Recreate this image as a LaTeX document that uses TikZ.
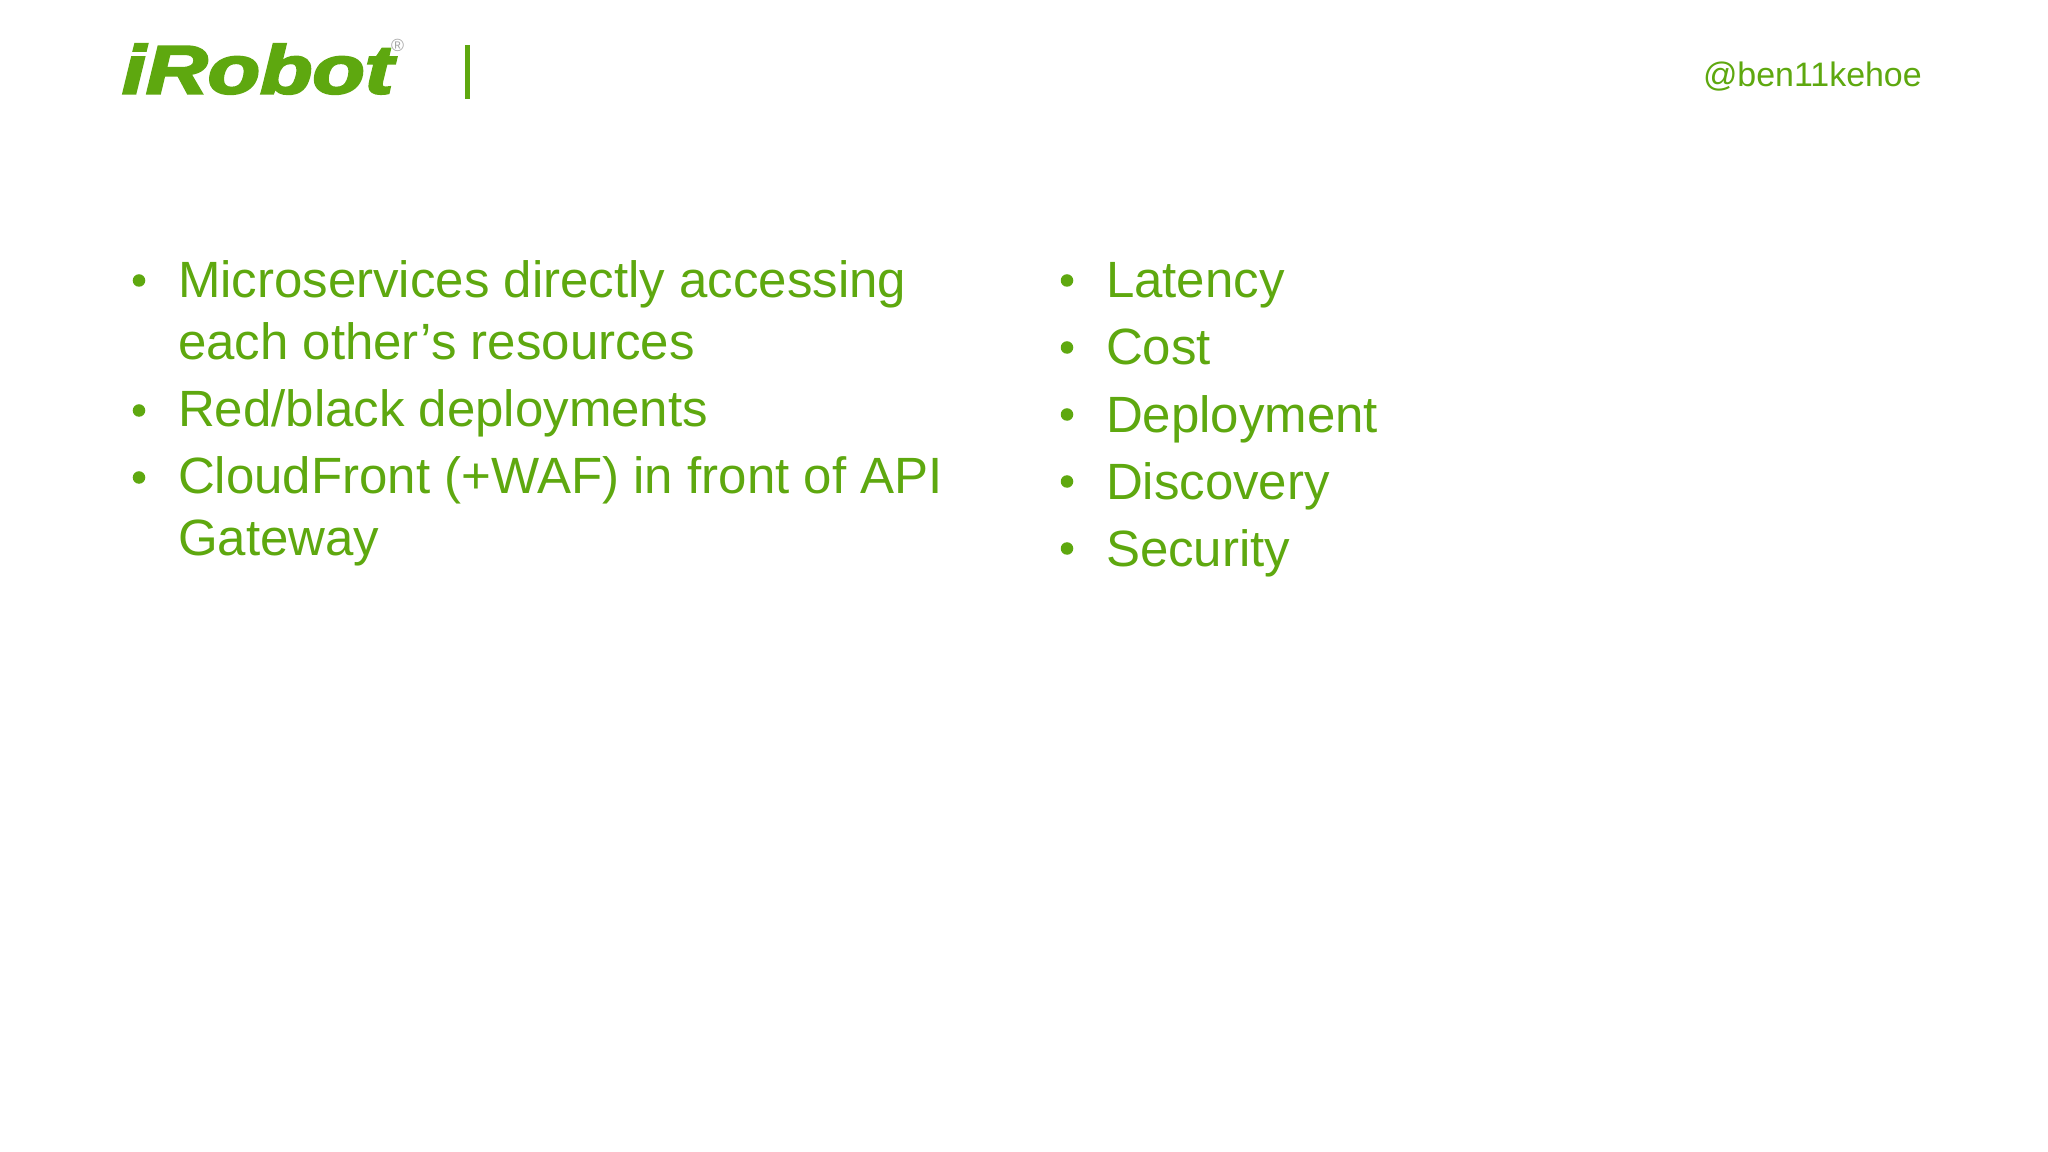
\documentclass[tikz,border=0pt]{standalone}
\usepackage{fontspec}
\setmainfont{Liberation Sans}
\newfontfamily\logofont[FakeBold=3]{Liberation Sans Bold Italic}
\usepackage{xcolor}
\definecolor{robotgreen}{HTML}{5EA80F}
\tikzset{
	item/.style={anchor=base west,inner sep=0pt,outer sep=0pt,text=robotgreen,font=\fontsize{14.5}{17}\selectfont},
	dot/.style={circle,fill=robotgreen,inner sep=0pt,minimum size=12.5*0.2845pt}
}
\begin{document}
\begin{tikzpicture}[x=0.01cm,y=-0.01cm]
	\useasboundingbox (0,0) rectangle (2048,1152);
	\fill[white] (0,0) rectangle (2048,1152);
	% header
	\node[item,font=\fontsize{19.5}{20}\logofont\selectfont,xscale=1.25] (logo) at (122,93.5) {iRobot};
	\node[item,text=black!35,font=\fontsize{5}{5}\selectfont] (mark) at (391,52) {®};
	\fill[robotgreen] (465,45) rectangle (469.5,99);
	\node[item,font=\fontsize{9.65}{12}\selectfont] (handle) at (1703,87) {@ben11kehoe};
	% left column
	\node[dot] (b1) at (139,280.5) {};
	\node[item] (l1) at (178,298) {Microservices directly accessing};
	\node[item] (l2) at (178,360) {each other’s resources};
	\node[dot] (b2) at (139,410.5) {};
	\node[item] (l3) at (178,427) {Red/black deployments};
	\node[dot] (b3) at (139,477.5) {};
	\node[item] (l4) at (178,494) {CloudFront (+WAF) in front of API};
	\node[item] (l5) at (178,555) {Gateway};
	% right column
	\node[dot] (r1) at (1067,280.5) {};
	\node[item] (t1) at (1106,298) {Latency};
	\node[dot] (r2) at (1067,347.5) {};
	\node[item] (t2) at (1106,365) {Cost};
	\node[dot] (r3) at (1067,414.5) {};
	\node[item] (t3) at (1106,433) {Deployment};
	\node[dot] (r4) at (1067,481.5) {};
	\node[item] (t4) at (1106,500) {Discovery};
	\node[dot] (r5) at (1067,548.5) {};
	\node[item] (t5) at (1106,567) {Security};
\end{tikzpicture}
\end{document}
